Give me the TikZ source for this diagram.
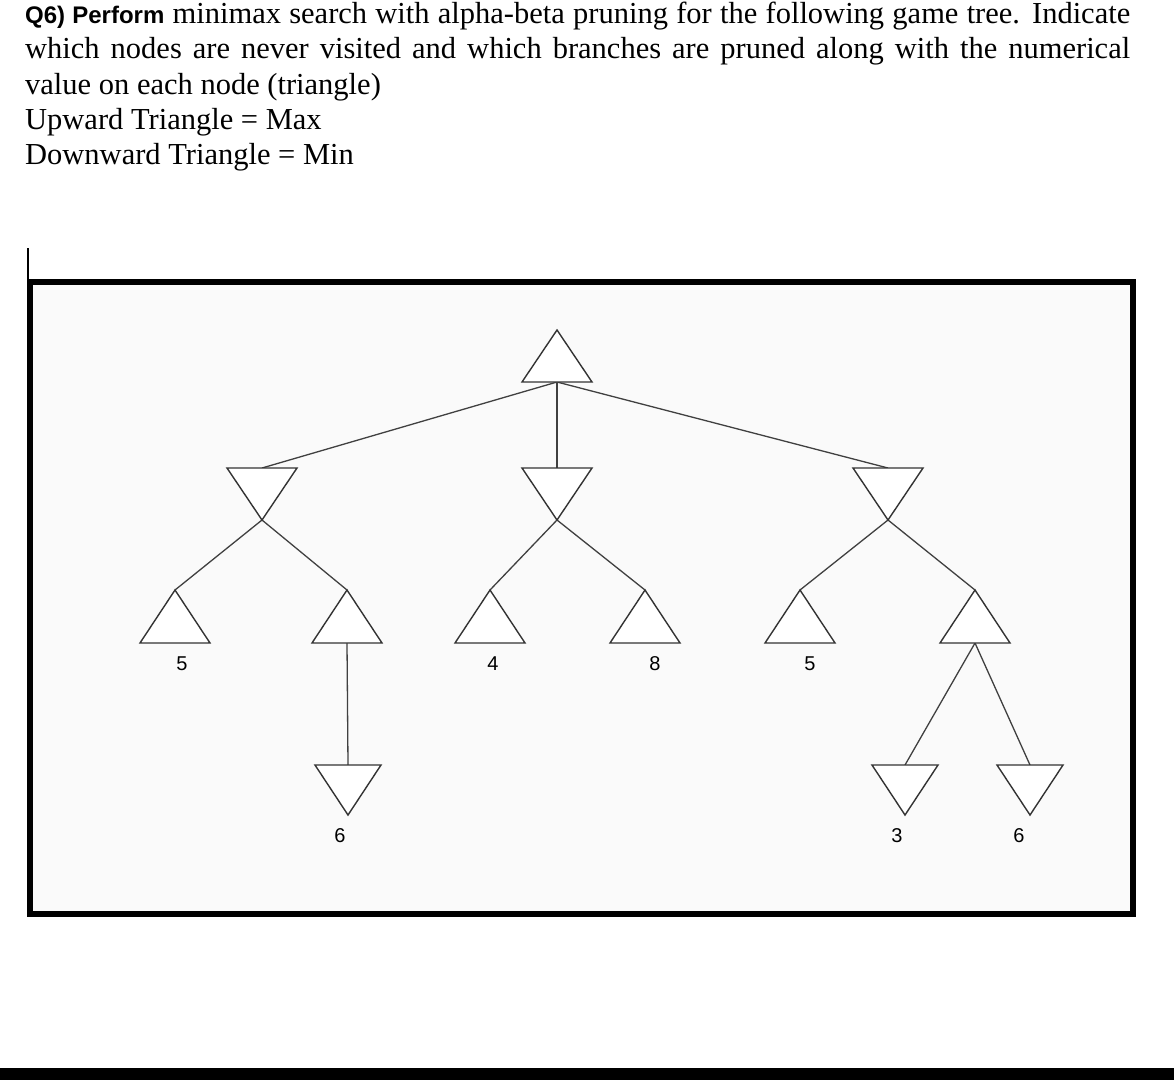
\documentclass[tikz,border=0pt]{standalone}
\usepackage{fontspec}
\setmainfont{Liberation Serif}
\newfontfamily\arialf{Liberation Sans}
\begin{document}
\begin{tikzpicture}[x=1pt,y=-1pt,
  edge/.style={draw=black!75,line width=1.3pt},
  tri/.style={draw=black!80,line width=1.4pt,fill=white},
  lab/.style={font=\arialf\fontsize{20}{22}\selectfont,inner sep=0pt}]
\useasboundingbox (0,0) rectangle (1174,1080);
\fill[white] (0,0) rectangle (1174,1080);
\node[anchor=north west,inner sep=0pt,text width=1105pt,align=justify,font=\fontsize{30.5}{35.3}\selectfont] (q) at (25,2)
 {{\arialf\bfseries\fontsize{24}{35}\selectfont Q6) Perform} minimax search with alpha-beta pruning for the following game tree. Indicate\linebreak which nodes are never visited and which branches are pruned along with the numerical\linebreak value on each node (triangle)\hfill\break
 Upward Triangle = Max\hfill\break
 Downward Triangle = Min\hfill\null};
\draw[line width=2pt] (28,248) -- (28,282);
\fill[black!2] (30,282) rectangle (1133,914);
\draw[line width=6pt] (30,282) rectangle (1133,914);
\fill[black] (0,1068) rectangle (1174,1080);
% coordinates
\coordinate (r) at (557,382);
\coordinate (a) at (262,468); \coordinate (b) at (557,468); \coordinate (c) at (888,468);
\coordinate (aa) at (262,520); \coordinate (ba) at (557,520); \coordinate (ca) at (888,520);
\foreach \n/\x in {m1/175,m2/347,m3/490,m4/645,m5/800,m6/975}{
  \coordinate (\n) at (\x,590); \coordinate (\n b) at (\x,643);}
\coordinate (l1) at (348,765); \coordinate (l2) at (905,765); \coordinate (l3) at (1030,765);
% edges
\draw[edge] (r) -- (a); \draw[edge] (r) -- (b); \draw[edge] (r) -- (c);
\draw[edge] (aa) -- (m1); \draw[edge] (aa) -- (m2);
\draw[edge] (ba) -- (m3); \draw[edge] (ba) -- (m4);
\draw[edge] (ca) -- (m5); \draw[edge] (ca) -- (m6);
\draw[edge] (m2b) -- (l1); \draw[edge] (m6b) -- (l2); \draw[edge] (m6b) -- (l3);
% triangles
\draw[tri] (557,330) -- (522,382) -- (592,382) -- cycle;
\foreach \x in {262,557,888}{\draw[tri] (\x-35,468) -- (\x+35,468) -- (\x,520) -- cycle;}
\foreach \x in {175,347,490,645,800,975}{\draw[tri] (\x,590) -- (\x-35,643) -- (\x+35,643) -- cycle;}
\foreach \x in {348,905,1030}{\draw[tri] (\x-33,765) -- (\x+33,765) -- (\x,815) -- cycle;}
% labels
\node[lab] (t1) at (182,664) {5};
\node[lab] (t3) at (493,664) {4};
\node[lab] (t4) at (655,664) {8};
\node[lab] (t5) at (810,664) {5};
\node[lab] (t6) at (340,836) {6};
\node[lab] (t7) at (897,836) {3};
\node[lab] (t8) at (1019,836) {6};
\end{tikzpicture}
\end{document}
